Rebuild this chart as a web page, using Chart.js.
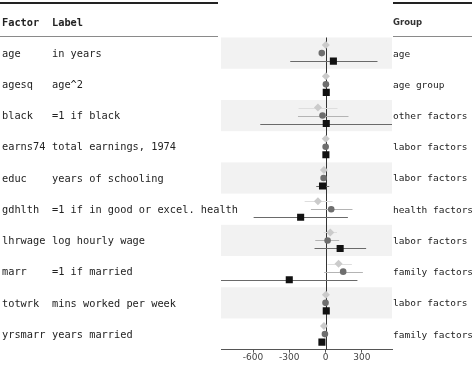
<!DOCTYPE html>
<html>
<head>
<meta charset="utf-8">
<script src="https://cdn.jsdelivr.net/npm/chart.js@4"></script>
<style>
  html, body { margin: 0; padding: 0; background: #fff; }
  #c { display: block; }
</style>
</head>
<body>
<canvas id="c" width="474" height="366"></canvas>
<script>
const factors = ['age','agesq','black','earns74','educ','gdhlth','lhrwage','marr','totwrk','yrsmarr'];
const labels = ['in years','age^2','=1 if black','total earnings, 1974','years of schooling','=1 if in good or excel. health','log hourly wage','=1 if married','mins worked per week','years married'];
const groups = ['age','age group','other factors','labor factors','labor factors','health factors','labor factors','family factors','labor factors','family factors'];

// series 1 (light grey diamonds)
const est1 = [2, 3, -63, 2, -13, -63, 39, 108, 3, -13];
const lo1  = [-8, -3, -223, -3, -20, -173, -15, 17, -3, -20];
const hi1  = [12, 9, 99, 7, -6, 58, 95, 218, 9, -6];
// series 2 (dark grey circles)
const est2 = [-31, 3, -25, 1, -16, 47, 17, 146, 0, -5];
const lo2  = [-41, -3, -228, -4, -24, -121, -85, -11, -5, -12];
const hi2  = [-21, 9, 190, 6, -8, 223, 113, 309, 5, 2];
// series 3 (black squares)
const est3 = [65, 6, 6, 3, -25, -206, 121, -300, 6, -30];
const lo3  = [-292, 0, -540, -2, -77, -595, -91, -880, 0, -40];
const hi3  = [430, 12, 620, 8, 31, 185, 336, 264, 12, -20];

const xTickValues = [-600, -300, 0, 300];

const rowOffset = 0.257;
function pts(est, off) { return est.map((v, i) => ({ x: v, y: i + off })); }

const seriesBars = [
  { lo: lo1, hi: hi1, off: -rowOffset, color: '#dedede' },
  { lo: lo2, hi: hi2, off: 0, color: '#b4b4b4' },
  { lo: lo3, hi: hi3, off: rowOffset, color: '#6a6a6a' }
];

const MONO = '"DejaVu Sans Mono"';

const tablePlugin = {
  id: 'tablePlugin',
  beforeDatasetsDraw(chart) {
    const { ctx, chartArea, scales } = chart;
    const xs = scales.x, ys = scales.y;
    ctx.save();
    ctx.fillStyle = '#f2f2f2';
    for (let i = 0; i < factors.length; i += 2) {
      const y0 = ys.getPixelForValue(i - 0.5), y1 = ys.getPixelForValue(i + 0.5);
      ctx.fillRect(chartArea.left, y0, chartArea.right - chartArea.left, y1 - y0);
    }
    const zx = Math.round(xs.getPixelForValue(0)) + 0.5;
    ctx.strokeStyle = '#333';
    ctx.lineWidth = 1;
    ctx.beginPath();
    ctx.moveTo(zx, chartArea.top);
    ctx.lineTo(zx, chartArea.bottom);
    ctx.stroke();
    ctx.beginPath();
    ctx.rect(chartArea.left, chartArea.top, chartArea.right - chartArea.left, chartArea.bottom - chartArea.top);
    ctx.clip();
    seriesBars.forEach(s => {
      ctx.strokeStyle = s.color;
      ctx.lineWidth = 1;
      for (let i = 0; i < factors.length; i++) {
        const y = Math.round(ys.getPixelForValue(i + s.off)) + 0.5;
        ctx.beginPath();
        ctx.moveTo(xs.getPixelForValue(s.lo[i]), y);
        ctx.lineTo(xs.getPixelForValue(s.hi[i]), y);
        ctx.stroke();
      }
    });
    ctx.restore();
  },
  afterDraw(chart) {
    const { ctx, scales } = chart;
    const ys = scales.y;
    ctx.save();
    ctx.fillStyle = '#222';
    ctx.fillRect(0, 2, 218, 2);
    ctx.fillRect(393, 2, 79, 2);
    ctx.fillStyle = '#8a8a8a';
    ctx.fillRect(0, 36, 218, 1);
    ctx.fillRect(393, 36, 79, 1);
    ctx.textBaseline = 'middle';
    ctx.textAlign = 'left';
    ctx.fillStyle = '#222';
    ctx.font = 'bold 10.3px ' + MONO;
    ctx.fillText('Factor', 2, 23);
    ctx.fillText('Label', 52, 23);
    ctx.fillStyle = '#333';
    ctx.font = 'bold 8.5px "DejaVu Sans"';
    ctx.fillText('Group', 393, 23);
    ctx.fillStyle = '#222';
    for (let i = 0; i < factors.length; i++) {
      const y = ys.getPixelForValue(i) + 1;
      ctx.font = '10.3px ' + MONO;
      ctx.fillText(factors[i], 2, y);
      ctx.fillText(labels[i], 52, y);
      ctx.font = '9.5px ' + MONO;
      ctx.fillText(groups[i], 393, y);
    }
    ctx.restore();
  }
};

new Chart(document.getElementById('c'), {
  type: 'scatter',
  data: {
    datasets: [
      { data: pts(est1, -rowOffset), pointStyle: 'rectRot', pointRadius: 4, backgroundColor: '#cbcbcb', borderColor: '#cbcbcb', borderWidth: 0 },
      { data: pts(est2, 0), pointStyle: 'circle', pointRadius: 3.3, backgroundColor: '#6e6e6e', borderColor: '#6e6e6e', borderWidth: 0 },
      { data: pts(est3, rowOffset), pointStyle: 'rect', pointRadius: 5, backgroundColor: '#111', borderColor: '#111', borderWidth: 0 }
    ]
  },
  options: {
    responsive: false,
    devicePixelRatio: 1,
    animation: false,
    layout: { padding: { left: 221, right: 82, top: 37.5, bottom: 2.5 } },
    plugins: { legend: { display: false }, tooltip: { enabled: false } },
    scales: {
      x: {
        type: 'linear',
        min: -865,
        max: 550,
        afterBuildTicks(scale) { scale.ticks = xTickValues.map(v => ({ value: v })); },
        grid: { drawOnChartArea: false, drawTicks: true, tickLength: 3, tickColor: '#555' },
        border: { display: true, color: '#555', width: 1 },
        ticks: { padding: 0, color: '#444', font: { family: '"DejaVu Sans"', size: 9 } }
      },
      y: {
        type: 'linear',
        min: -0.5,
        max: 9.5,
        reverse: true,
        display: false
      }
    }
  },
  plugins: [tablePlugin]
});
</script>
</body>
</html>
